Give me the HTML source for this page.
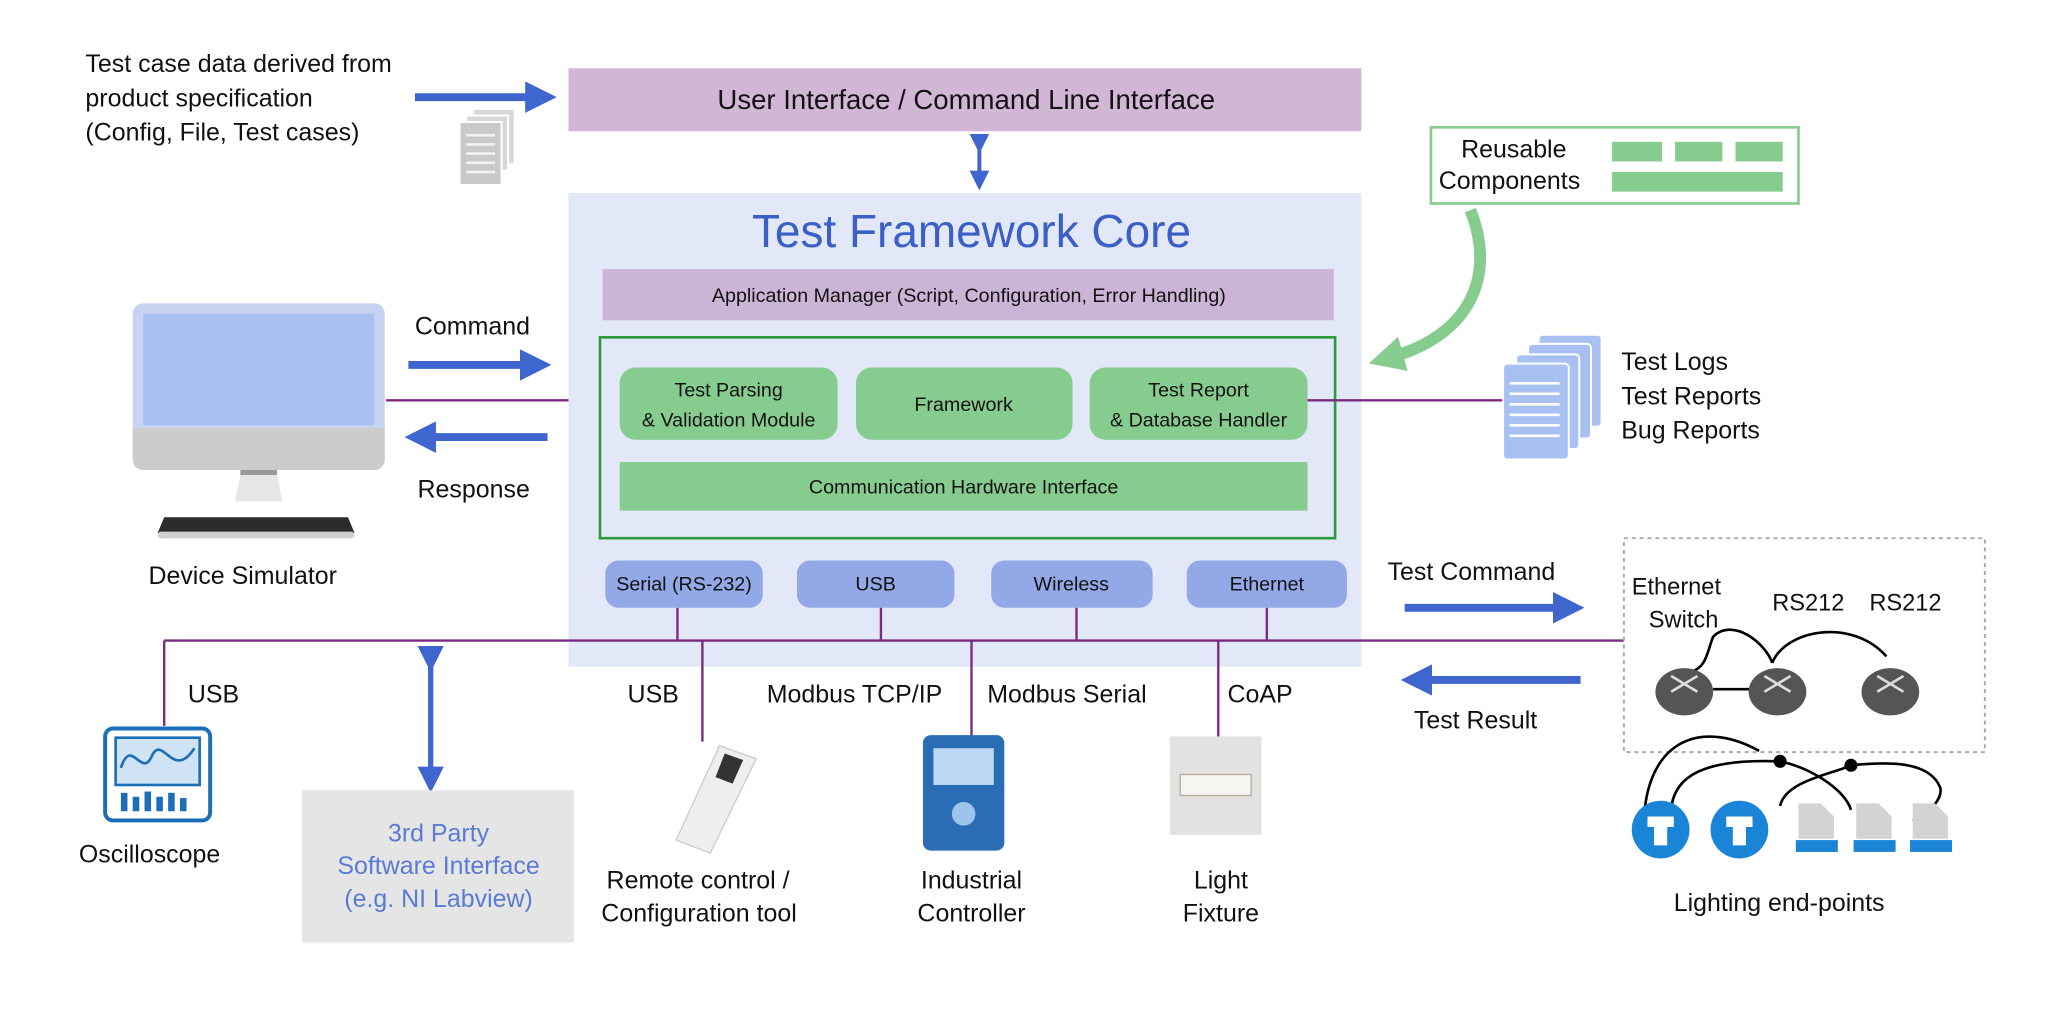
<!DOCTYPE html>
<html><head><meta charset="utf-8"><style>
html,body{margin:0;padding:0;background:#fff;width:2048px;height:1016px;overflow:hidden}
svg{display:block}
text{font-family:"Liberation Sans",sans-serif;fill:#111}
</style></head><body>
<svg width="2048" height="1016" viewBox="0 0 1560 774" xmlns="http://www.w3.org/2000/svg">
<defs>
<marker id="ah" markerWidth="4" markerHeight="4" refX="2" refY="2" orient="auto" markerUnits="strokeWidth"><path d="M0,0 L4,2 L0,4 z" fill="#3f66cf"/></marker>
<marker id="ah2" markerWidth="5" markerHeight="5" refX="2" refY="2.5" orient="auto" markerUnits="strokeWidth"><path d="M0,0 L5,2.5 L0,5 z" fill="#3f66cf"/></marker>
<marker id="gh" markerWidth="3" markerHeight="3" refX="1" refY="1.5" orient="auto" markerUnits="strokeWidth"><path d="M0,0 L3,1.5 L0,3 z" fill="#86cc8f"/></marker>
</defs>
<text x="65" y="55" font-size="19">Test case data derived from</text>
<text x="65" y="81" font-size="19">product specification</text>
<text x="65" y="107" font-size="19">(Config, File, Test cases)</text>
<line x1="316" y1="74" x2="412" y2="74" stroke="#3f66cf" stroke-width="6" marker-end="url(#ah)"/>
<g fill="#d8d8d8" stroke="#fff" stroke-width="1.5">
<rect x="360" y="83" width="32" height="42"/><rect x="355" y="88" width="32" height="42"/><rect x="350" y="93" width="32" height="48" fill="#c9c9c9"/>
</g>
<g stroke="#f2f2f2" stroke-width="2"><line x1="355" y1="103" x2="377" y2="103"/><line x1="355" y1="110" x2="377" y2="110"/><line x1="355" y1="117" x2="377" y2="117"/><line x1="355" y1="124" x2="377" y2="124"/><line x1="355" y1="131" x2="377" y2="131"/></g>
<rect x="433" y="52" width="604" height="48" fill="#d2b6d6"/>
<text x="736" y="83" font-size="21" text-anchor="middle">User Interface / Command Line Interface</text>
<line x1="746" y1="108" x2="746" y2="136" stroke="#3f66cf" stroke-width="3" marker-end="url(#ah2)" marker-start="url(#ah2)"/>
<rect x="433" y="147" width="604" height="361" fill="#e3e8f8"/>
<text x="740" y="188" font-size="35" text-anchor="middle" style="fill:#3a5fc8">Test Framework Core</text>
<rect x="459" y="205" width="557" height="39" fill="#ccb4d6"/>
<text x="738" y="230" font-size="15" text-anchor="middle">Application Manager (Script, Configuration, Error Handling)</text>
<rect x="457" y="257" width="560" height="153" fill="none" stroke="#2a9a3a" stroke-width="2"/>
<g fill="#86cc8f"><rect x="472" y="280" width="166" height="55" rx="12"/><rect x="652" y="280" width="165" height="55" rx="12"/><rect x="830" y="280" width="166" height="55" rx="12"/><rect x="472" y="352" width="524" height="37"/></g>
<g font-size="15" text-anchor="middle">
<text x="555" y="302">Test Parsing</text><text x="555" y="325">&amp; Validation Module</text>
<text x="734" y="313">Framework</text>
<text x="913" y="302">Test Report</text><text x="913" y="325">&amp; Database Handler</text>
<text x="734" y="376">Communication Hardware Interface</text>
</g>
<g fill="#93a8e6"><rect x="461" y="427" width="120" height="36" rx="10"/><rect x="607" y="427" width="120" height="36" rx="10"/><rect x="755" y="427" width="123" height="36" rx="10"/><rect x="904" y="427" width="122" height="36" rx="10"/></g>
<g font-size="15" text-anchor="middle"><text x="521" y="450">Serial (RS-232)</text><text x="667" y="450">USB</text><text x="816" y="450">Wireless</text><text x="965" y="450">Ethernet</text></g>
<g stroke="#7b2a82" stroke-width="1.8" fill="none">
<line x1="125" y1="488" x2="1237" y2="488"/>
<line x1="125" y1="488" x2="125" y2="553"/>
<line x1="516" y1="463" x2="516" y2="488"/><line x1="671" y1="463" x2="671" y2="488"/><line x1="820" y1="463" x2="820" y2="488"/><line x1="965" y1="463" x2="965" y2="488"/>
<line x1="535" y1="488" x2="535" y2="565"/><line x1="740" y1="488" x2="740" y2="565"/><line x1="928" y1="488" x2="928" y2="565"/>
<line x1="294" y1="305" x2="433" y2="305"/><line x1="996" y1="305" x2="1145" y2="305"/>
</g>
<!-- monitor -->
<rect x="101" y="231" width="192" height="127" rx="8" fill="#c7d3f1"/>
<rect x="109" y="239" width="176" height="85" fill="#a9c0f2"/>
<path d="M101,326 h192 v24 a8,8 0 0 1 -8,8 h-176 a8,8 0 0 1 -8,-8z" fill="#cccccc"/>
<rect x="183" y="358" width="28" height="4" fill="#999"/>
<path d="M183,362 h28 l4,20 h-36z" fill="#e6e6e6"/>
<path d="M125,394 h140 l5,12 h-150z" fill="#2b2b2b"/>
<rect x="120" y="405" width="150" height="5" rx="2.5" fill="#cfcfcf"/>
<text x="113" y="445" font-size="19">Device Simulator</text>
<text x="316" y="255" font-size="19">Command</text>
<line x1="311" y1="278" x2="408" y2="278" stroke="#3f66cf" stroke-width="6" marker-end="url(#ah)"/>
<line x1="417" y1="333" x2="320" y2="333" stroke="#3f66cf" stroke-width="6" marker-end="url(#ah)"/>
<text x="318" y="379" font-size="19">Response</text>
<rect x="1090" y="97" width="280" height="58" fill="#fff" stroke="#86cc8f" stroke-width="2"/>
<text x="1113" y="120" font-size="19">Reusable</text><text x="1096" y="144" font-size="19">Components</text>
<g fill="#86cc8f"><rect x="1228" y="108" width="38" height="15"/><rect x="1276" y="108" width="36" height="15"/><rect x="1322" y="108" width="36" height="15"/><rect x="1228" y="131" width="130" height="15"/></g>
<path d="M1120,160 C1140,210 1120,255 1060,272" fill="none" stroke="#86cc8f" stroke-width="9" marker-end="url(#gh)"/>
<g fill="#a9c0f2" stroke="#fff" stroke-width="1.5">
<rect x="1172" y="255" width="48" height="70" rx="3"/><rect x="1164" y="262" width="48" height="72" rx="3"/><rect x="1155" y="270" width="48" height="72" rx="3"/><rect x="1145" y="277" width="50" height="73" rx="3"/>
</g>
<g stroke="#fff" stroke-width="2"><line x1="1150" y1="292" x2="1188" y2="292"/><line x1="1150" y1="300" x2="1188" y2="300"/><line x1="1150" y1="308" x2="1188" y2="308"/><line x1="1150" y1="316" x2="1188" y2="316"/><line x1="1150" y1="324" x2="1188" y2="324"/><line x1="1150" y1="332" x2="1188" y2="332"/></g>
<text x="1235" y="282" font-size="19">Test Logs</text><text x="1235" y="308" font-size="19">Test Reports</text><text x="1235" y="334" font-size="19">Bug Reports</text>
<text x="1057" y="442" font-size="19">Test Command</text>
<line x1="1070" y1="463" x2="1195" y2="463" stroke="#3f66cf" stroke-width="6" marker-end="url(#ah)"/>
<line x1="1204" y1="518" x2="1079" y2="518" stroke="#3f66cf" stroke-width="6" marker-end="url(#ah)"/>
<text x="1077" y="555" font-size="19">Test Result</text>
<rect x="1237" y="410" width="275" height="163" fill="none" stroke="#aaa" stroke-width="1.5" stroke-dasharray="3,3"/>
<text x="1243" y="453" font-size="18">Ethernet</text><text x="1256" y="478" font-size="18">Switch</text>
<text x="1350" y="465" font-size="18">RS212</text><text x="1424" y="465" font-size="18">RS212</text>
<g fill="none" stroke="#000" stroke-width="2">
<path d="M1288,512 C1300,508 1300,498 1305,485 C1320,470 1345,490 1350,505"/>
<path d="M1350,505 C1360,480 1410,470 1437,500"/>
<line x1="1305" y1="525" x2="1333" y2="525"/>
<path d="M1253,615 C1260,560 1300,550 1340,572"/>
<path d="M1273,617 C1275,590 1300,578 1355,580 C1375,583 1405,600 1410,617"/>
<path d="M1356,614 C1360,595 1395,590 1410,583 C1440,580 1470,580 1478,600 C1480,608 1470,620 1457,625"/>
</g>
<circle cx="1356" cy="580" r="5" fill="#000"/><circle cx="1410" cy="583" r="5" fill="#000"/>
<g fill="#555"><ellipse cx="1283" cy="527" rx="22" ry="18"/><ellipse cx="1354" cy="527" rx="22" ry="18"/><ellipse cx="1440" cy="527" rx="22" ry="18"/></g>
<g stroke="#ddd" stroke-width="2"><path d="M1273,515 l20,12 M1293,515 l-20,12 M1344,515 l20,12 M1364,515 l-20,12 M1430,515 l20,12 M1450,515 l-20,12"/></g>
<g fill="#1a84d6"><circle cx="1265" cy="632" r="22"/><circle cx="1325" cy="632" r="22"/>
<rect x="1368" y="640" width="32" height="9"/><rect x="1412" y="640" width="32" height="9"/><rect x="1455" y="640" width="32" height="9"/></g>
<g fill="#fff"><path d="M1255,622 h20 v8 h-5 v14 h-10 v-14 h-5z"/><path d="M1315,622 h20 v8 h-5 v14 h-10 v-14 h-5z"/></g>
<g fill="#d3d3d3"><path d="M1370,612 h17 l10,10 v17 h-27z"/><path d="M1414,612 h17 l10,10 v17 h-27z"/><path d="M1457,612 h17 l10,10 v17 h-27z"/></g>
<text x="1275" y="694" font-size="19">Lighting end-points</text>
<text x="143" y="535" font-size="19">USB</text>
<rect x="80" y="555" width="80" height="70" rx="6" fill="#fff" stroke="#1a6fb8" stroke-width="3"/>
<rect x="88" y="562" width="64" height="36" fill="#cfe3f4" stroke="#1a6fb8" stroke-width="2"/>
<path d="M92,585 C100,560 108,595 116,575 C124,560 132,595 148,570" fill="none" stroke="#1a6fb8" stroke-width="2"/>
<g fill="#1a6fb8"><rect x="92" y="604" width="5" height="14"/><rect x="101" y="607" width="5" height="11"/><rect x="110" y="603" width="5" height="15"/><rect x="119" y="607" width="5" height="11"/><rect x="128" y="604" width="5" height="14"/><rect x="137" y="608" width="5" height="10"/></g>
<text x="60" y="657" font-size="19">Oscilloscope</text>
<line x1="328" y1="500" x2="328" y2="592" stroke="#3f66cf" stroke-width="4" marker-end="url(#ah2)" marker-start="url(#ah2)"/>
<rect x="230" y="602" width="207" height="116" fill="#e5e5e5"/>
<g font-size="19" text-anchor="middle"><text x="334" y="641" style="fill:#5a7bd4">3rd Party</text><text x="334" y="666" style="fill:#5a7bd4">Software Interface</text><text x="334" y="691" style="fill:#5a7bd4">(e.g. NI Labview)</text></g>
<text x="478" y="535" font-size="19">USB</text>
<text x="584" y="535" font-size="19">Modbus TCP/IP</text>
<text x="752" y="535" font-size="19">Modbus Serial</text>
<text x="935" y="535" font-size="19">CoAP</text>
<path d="M548,568 l28,10 l-35,72 l-26,-10z" fill="#eee" stroke="#ccc"/>
<path d="M552,574 l14,5 l-8,18 l-13,-5z" fill="#333"/>
<text x="462" y="677" font-size="19">Remote control /</text>
<text x="458" y="702" font-size="19">Configuration tool</text>
<rect x="703" y="560" width="62" height="88" rx="6" fill="#2a6db5"/>
<rect x="711" y="570" width="46" height="28" fill="#bcd8f2"/>
<circle cx="734" cy="620" r="9" fill="#9cc4ec"/>
<text x="740" y="677" font-size="19" text-anchor="middle">Industrial</text>
<text x="740" y="702" font-size="19" text-anchor="middle">Controller</text>
<rect x="891" y="561" width="70" height="75" fill="#e2e2e2"/>
<rect x="899" y="590" width="54" height="16" fill="#f6f6f0" stroke="#b4ab95"/>
<text x="930" y="677" font-size="19" text-anchor="middle">Light</text>
<text x="930" y="702" font-size="19" text-anchor="middle">Fixture</text>
</svg>
</body></html>
